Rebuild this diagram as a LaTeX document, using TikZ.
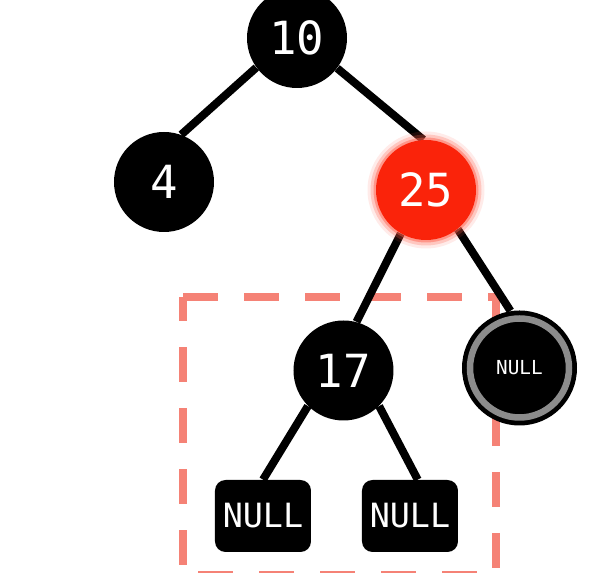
\documentclass[tikz,border=0pt]{standalone}
\usepackage{fontspec}
\setmonofont{DejaVu Sans Mono}
\usepackage{xcolor}
\usepackage{tikz}
\usetikzlibrary{positioning, backgrounds}
\definecolor{rbred}{RGB}{250,35,10}
\definecolor{rbglow}{RGB}{255,90,70}
\definecolor{ringgrey}{RGB}{140,140,140}
\definecolor{dashsalmon}{RGB}{245,130,118}
\tikzset{
  blacknode/.style={circle, fill=black, minimum size=2cm, inner sep=0pt,
    text=white, font=\ttfamily\fontsize{26}{26}\selectfont},
  rednode/.style={blacknode, fill=rbred},
  nullbox/.style={rectangle, fill=black, rounded corners=6pt,
    minimum width=1.92cm, minimum height=1.44cm, inner sep=0pt,
    text=white, font=\ttfamily\fontsize{19}{19}\selectfont},
  nullleaf/.style={circle, fill=black, minimum size=2.3cm, inner sep=0pt,
    text=white, font=\ttfamily\fontsize{11}{11}\selectfont},
  edge/.style={line width=0.16cm, color=black},
  subtree/.style={draw=dashsalmon, line width=0.17cm,
    dash pattern=on 0.7cm off 0.52cm}
}

\begin{document}
\begin{tikzpicture}
  \useasboundingbox (0,0) rectangle (11.88,11.46);
  \clip (0,0) rectangle (11.88,11.46);

  % Glow round the red node
  \foreach \r/\o in {1.17/0.12, 1.11/0.25, 1.05/0.45} {
    \fill[rbglow, opacity=\o] (8.52,7.66) circle (\r);
  }

  % Tree nodes
  \node[blacknode] (k10) at (5.94,10.70) {10};
  \node[blacknode] (k4) at (3.28,7.82) {4};
  \node[rednode] (k25) at (8.52,7.66) {25};
  \node[blacknode] (k17) at (6.87,4.05) {17};

  % NULL leaves
  \node[nullleaf] (nullR) at (10.39,4.10) {NULL};
  \draw[ringgrey, line width=0.13cm] (nullR.center) circle (0.99);
  \node[nullbox] (nullA) at (5.26,1.14) {NULL};
  \node[nullbox] (nullB) at (8.20,1.14) {NULL};

  \begin{pgfonlayer}{background}
    % Subtree frame
    \draw[subtree] (3.66,5.52) -- (9.92,5.52) -- (9.92,-0.05) -- (3.66,-0.05) -- cycle;

    % Edges
    \draw[edge] (k10.216) -- (k4.70);
    \draw[edge] (k10.323) -- (k25.93);
    \draw[edge] (k25.240) -- (k17.75);
    \draw[edge] (k25.-51) -- (nullR.99);
    \draw[edge] (k17.225) -- (nullA.north);
    \draw[edge] (k17.315) -- (nullB.78);
  \end{pgfonlayer}
\end{tikzpicture}
\end{document}
